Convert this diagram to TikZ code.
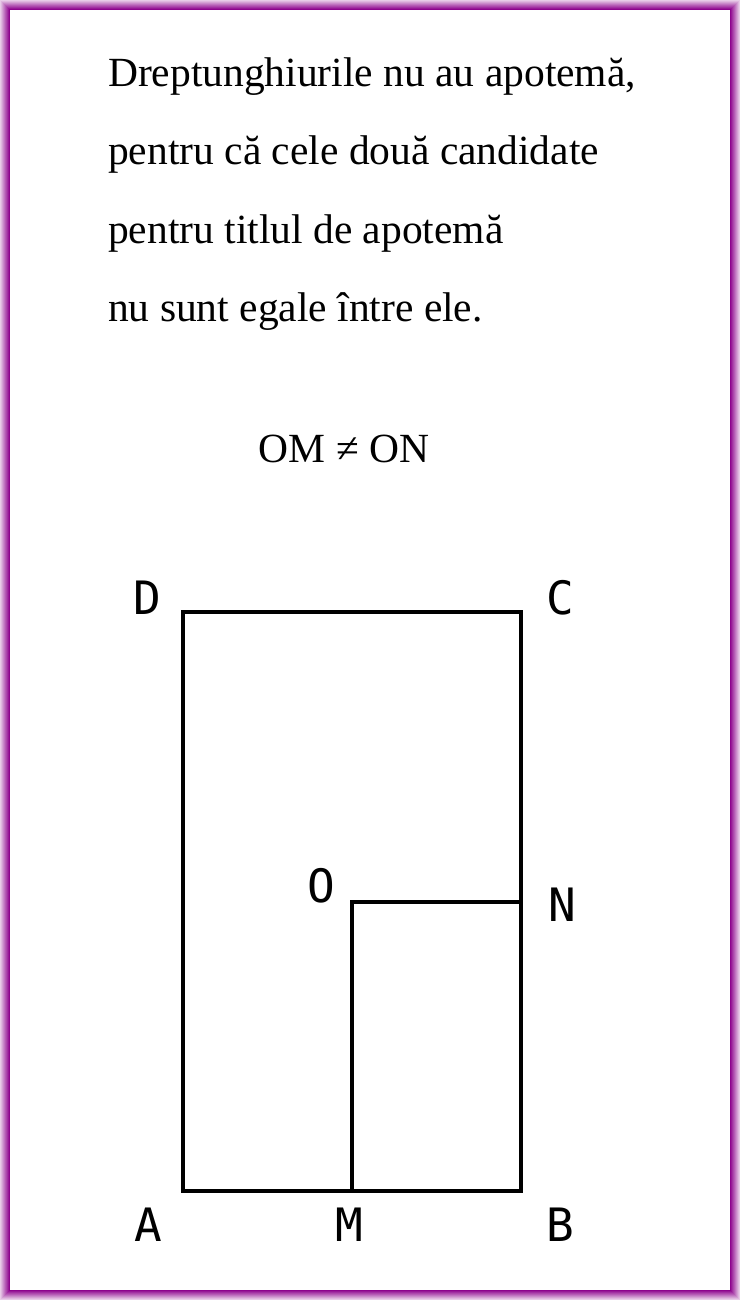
\documentclass[tikz,border=0pt]{standalone}
\usepackage{fontspec}
\setmainfont{Liberation Serif}
\newfontfamily\labfont{DejaVu Sans Mono}
\definecolor{framecol}{RGB}{140,0,140}
\begin{document}
\begin{tikzpicture}[x=1pt,y=-1pt,
  txt/.style={anchor=base west,inner sep=0pt,font=\fontsize{41.5}{41.5}\selectfont},
  lab/.style={inner sep=0pt,font=\labfont\fontsize{46}{46}\selectfont},
  edge/.style={line width=4.6pt,line cap=rect}]
\useasboundingbox (0,0) rectangle (740,1300);
\fill[white] (0,0) rectangle (740,1300);
% frame gradient
\foreach \i in {0,...,9}{
  \pgfmathtruncatemacro{\p}{20+\i*8.8}
  \draw[line width=1.05pt,framecol!\p!white] (\i+0.5,\i+0.5) rectangle (739.5-\i,1299.5-\i);
}
\node[txt] (t1) at (108,87) {Dreptunghiurile nu au apotemă,};
\node[txt] (t2) at (108,165) {pentru că cele două candidate};
\node[txt] (t3) at (108,243) {pentru titlul de apotemă};
\node[txt] (t4) at (108,321) {nu sunt egale între ele.};
\node[anchor=base,inner sep=0pt,font=\fontsize{41.5}{41.5}\selectfont] (eq) at (344,462) {OM ≠ ON};
% points
\coordinate (A) at (183,1191);
\coordinate (B) at (521,1191);
\coordinate (C) at (521,612);
\coordinate (D) at (183,612);
\coordinate (O) at (352,902);
\coordinate (M) at (352,1191);
\coordinate (N) at (521,902);
\draw[edge] (A) -- (B) -- (C) -- (D) -- cycle;
\draw[edge,line cap=butt] (M) -- (O) -- (N);
\node[lab] (lD) at (147,598) {D};
\node[lab] (lC) at (560,598) {C};
\node[lab] (lO) at (321,886) {O};
\node[lab] (lN) at (562,905) {N};
\node[lab] (lA) at (148,1225) {A};
\node[lab] (lM) at (349,1225) {M};
\node[lab] (lB) at (560,1225) {B};
\end{tikzpicture}
\end{document}
